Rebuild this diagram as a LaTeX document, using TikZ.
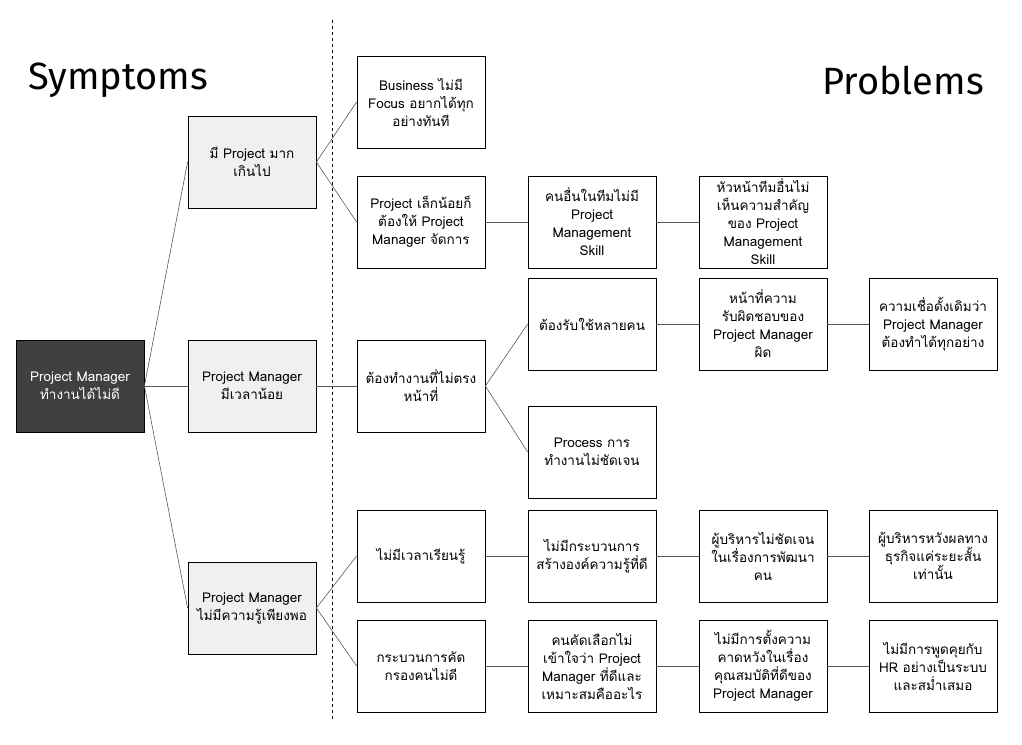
\documentclass[tikz,border=0pt]{standalone}
\usepackage{fontspec}
\setmainfont{Loma}[Script=Thai]
\newfontfamily\titlefont{Fira Sans}
\tikzset{
    box/.style={draw, line width=0.8pt, minimum width=128pt, minimum height=92pt,
        align=center, inner sep=2pt, font=\fontsize{13.5}{18}\selectfont},
    sym/.style={box, fill=gray!12},
    root/.style={box, fill=black!75, text=white},
    link/.style={draw=black!65, line width=0.6pt}
}
\begin{document}
\begin{tikzpicture}[x=1pt,y=-1pt]
\useasboundingbox (0,0) rectangle (1022,744);
\draw[dashed, line width=0.6pt] (332,20) -- (332,720);
\node[font=\titlefont\fontsize{38}{38}\selectfont] (symt) at (118,80) {Symptoms};
\node[font=\titlefont\fontsize{38}{38}\selectfont] (prob) at (903,80) {Problems};
% symptoms
\node[root] (r) at (80,386) {Project Manager\\ทำงานได้ไม่ดี};
\node[sym] (s1) at (252,162) {มี Project มาก\\เกินไป};
\node[sym] (s2) at (252,386) {Project Manager\\มีเวลาน้อย};
\node[sym] (s3) at (252,608) {Project Manager\\ไม่มีความรู้เพียงพอ};
% problems
\node[box] (a1) at (421,102) {Business ไม่มี\\Focus อยากได้ทุก\\อย่างทันที};
\node[box] (a2) at (421,222) {Project เล็กน้อยก็\\ต้องให้ Project\\Manager จัดการ};
\node[box] (a3) at (421,386) {ต้องทำงานที่ไม่ตรง\\หน้าที่};
\node[box] (a4) at (421,556) {ไม่มีเวลาเรียนรู้};
\node[box] (a5) at (421,666) {กระบวนการคัด\\กรองคนไม่ดี};
\node[box] (b1) at (592,222) {คนอื่นในทีมไม่มี\\Project\\Management\\Skill};
\node[box] (b2) at (592,324) {ต้องรับใช้หลายคน};
\node[box] (b3) at (592,452) {Process การ\\ทำงานไม่ชัดเจน};
\node[box] (b4) at (592,556) {ไม่มีกระบวนการ\\สร้างองค์ความรู้ที่ดี};
\node[box] (b5) at (592,666) {คนคัดเลือกไม่\\เข้าใจว่า Project\\Manager ที่ดีและ\\เหมาะสมคืออะไร};
\node[box] (c1) at (763,222) {หัวหน้าทีมอื่นไม่\\เห็นความสำคัญ\\ของ Project\\Management\\Skill};
\node[box] (c2) at (763,324) {หน้าที่ความ\\รับผิดชอบของ\\Project Manager\\ผิด};
\node[box] (c4) at (763,556) {ผู้บริหารไม่ชัดเจน\\ในเรื่องการพัฒนา\\คน};
\node[box] (c5) at (763,666) {ไม่มีการตั้งความ\\คาดหวังในเรื่อง\\คุณสมบัติที่ดีของ\\Project Manager};
\node[box] (d2) at (933,324) {ความเชื่อดั้งเดิมว่า\\Project Manager\\ต้องทำได้ทุกอย่าง};
\node[box] (d4) at (933,556) {ผู้บริหารหวังผลทาง\\ธุรกิจแค่ระยะสั้น\\เท่านั้น};
\node[box] (d5) at (933,666) {ไม่มีการพูดคุยกับ\\HR อย่างเป็นระบบ\\และสม่ำเสมอ};
% connectors
\foreach \p/\c in {r/s1, r/s2, r/s3, s1/a1, s1/a2, s2/a3, s3/a4, s3/a5,
    a2/b1, a3/b2, a3/b3, a4/b4, a5/b5, b1/c1, b2/c2, b4/c4, b5/c5,
    c2/d2, c4/d4, c5/d5}
    \draw[link] (\p.east) -- (\c.west);
\end{tikzpicture}
\end{document}
